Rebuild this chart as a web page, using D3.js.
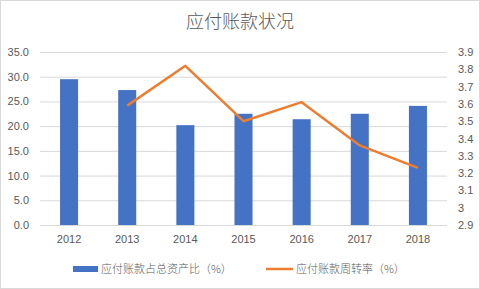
<!DOCTYPE html>
<html>
<head>
<meta charset="utf-8">
<style>
  body { margin: 0; background: #fff; }
  svg { display: block; font-family: Lato, "Noto Sans CJK SC", sans-serif; }
  .tick text { fill: #595959; font-size: 11px; }
  .axis .domain { display: none; }
  .axis .tick line { display: none; }
  .grid line { stroke: #d9d9d9; stroke-width: 1px; }
  .grid .domain { display: none; }
</style>
</head>
<body>
<div id="chart"></div>
<script src="https://d3js.org/d3.v7.min.js"></script>
<script>
  // data
  var years = ["2012", "2013", "2014", "2015", "2016", "2017", "2018"];
  var payableShare = [29.5, 27.3, 20.2, 22.5, 21.4, 22.5, 24.1];
  var turnoverYears = ["2013", "2014", "2015", "2016", "2017", "2018"];
  var turnover = [3.59, 3.82, 3.50, 3.61, 3.36, 3.23];
  var leftTicks = [0, 5, 10, 15, 20, 25, 30, 35];
  var rightTicks = [2.9, 3, 3.1, 3.2, 3.3, 3.4, 3.5, 3.6, 3.7, 3.8, 3.9];
  var title = "应付账款状况";
  var seriesNames = ["应付账款占总资产比（%）", "应付账款周转率（%）"];

  var W = 480, H = 289;
  var margin = {top: 52, right: 33, bottom: 64, left: 40};
  var width = W - margin.left - margin.right;
  var height = H - margin.top - margin.bottom;

  var svg = d3.select("#chart").append("svg")
      .attr("width", W)
      .attr("height", H);

  // outer border
  svg.append("rect")
      .attr("x", 0.5).attr("y", 0.5)
      .attr("width", W - 1).attr("height", H - 1)
      .attr("fill", "#fff")
      .attr("stroke", "#d9d9d9");

  svg.append("text")
      .attr("x", W / 2)
      .attr("y", 28)
      .attr("text-anchor", "middle")
      .style("font-family", "'Noto Sans CJK SC', sans-serif")
      .style("font-weight", 300)
      .style("font-size", "18px")
      .style("fill", "#595959")
      .text(title);

  var g = svg.append("g")
      .attr("transform", "translate(" + margin.left + "," + margin.top + ")");

  var x = d3.scaleBand()
      .domain(years)
      .range([0, width])
      .paddingInner(0.69)
      .paddingOuter(0.345);

  var yL = d3.scaleLinear().domain([0, 35]).range([height, 0]);
  var yR = d3.scaleLinear().domain([2.9, 3.9]).range([height, 0]);

  // gridlines
  g.append("g")
      .attr("class", "grid")
      .call(d3.axisLeft(yL).tickValues(leftTicks).tickSize(-width).tickFormat(""));

  // axes
  g.append("g")
      .attr("class", "axis")
      .attr("transform", "translate(-8,0)")
      .call(d3.axisLeft(yL).tickValues(leftTicks).tickSize(0).tickFormat(d3.format(".1f")));

  g.append("g")
      .attr("class", "axis")
      .attr("transform", "translate(" + (width + 8) + ",0)")
      .call(d3.axisRight(yR).tickValues(rightTicks).tickSize(0).tickFormat(function(d){ return d3.format("")(+d.toFixed(1)); }));

  g.append("g")
      .attr("class", "axis")
      .attr("transform", "translate(0," + height + ")")
      .call(d3.axisBottom(x).tickSize(0).tickPadding(10));

  // bars
  g.selectAll("rect.bar")
      .data(years)
    .enter().append("rect")
      .attr("class", "bar")
      .attr("x", function(d){ return x(d); })
      .attr("y", function(d, i){ return yL(payableShare[i]); })
      .attr("width", x.bandwidth())
      .attr("height", function(d, i){ return height - yL(payableShare[i]); })
      .attr("fill", "#4472c4");

  // line
  var line = d3.line()
      .x(function(d){ return x(d[0]) + x.bandwidth() / 2; })
      .y(function(d){ return yR(d[1]); });

  g.append("path")
      .datum(d3.zip(turnoverYears, turnover))
      .attr("d", line)
      .attr("fill", "none")
      .attr("stroke", "#ed7d31")
      .attr("stroke-width", 2.5)
      .attr("stroke-linejoin", "round");

  // legend
  var lg = svg.append("g").attr("transform", "translate(0,269)");
  lg.append("rect")
      .attr("x", 73).attr("y", -3)
      .attr("width", 25).attr("height", 6)
      .attr("fill", "#4472c4");
  lg.append("text")
      .attr("x", 101).attr("y", 4)
      .style("font-family", "'Noto Sans CJK SC', sans-serif")
      .style("font-weight", 300)
      .style("font-size", "11px")
      .style("fill", "#595959")
      .text(seriesNames[0]);
  lg.append("line")
      .attr("x1", 266).attr("x2", 293)
      .attr("y1", 0).attr("y2", 0)
      .attr("stroke", "#ed7d31")
      .attr("stroke-width", 2.5);
  lg.append("text")
      .attr("x", 296).attr("y", 4)
      .style("font-family", "'Noto Sans CJK SC', sans-serif")
      .style("font-weight", 300)
      .style("font-size", "11px")
      .style("fill", "#595959")
      .text(seriesNames[1]);
</script>
</body>
</html>
